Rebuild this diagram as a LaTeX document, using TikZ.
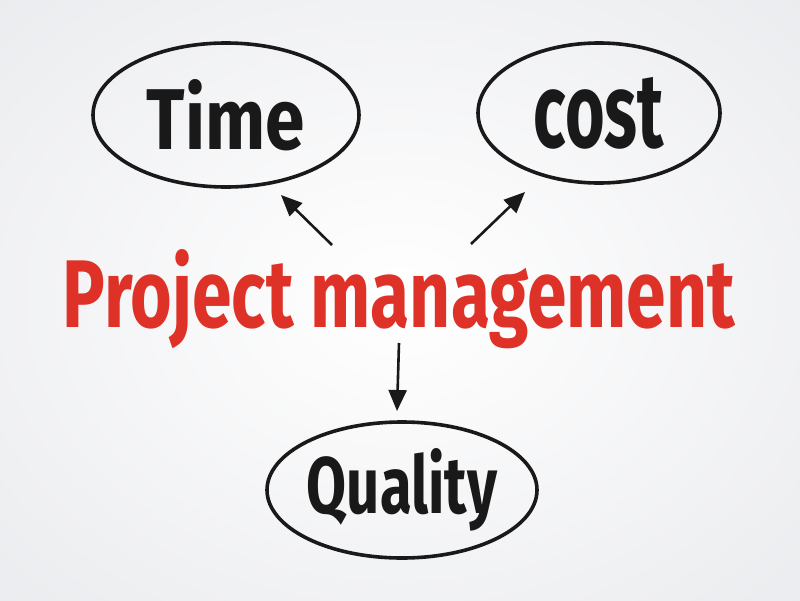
\documentclass[tikz,border=0pt]{standalone}
\usepackage{fontspec}
\setmainfont{Fira Sans}
\usepackage{graphicx}
\usetikzlibrary{shapes.geometric,arrows.meta}
\definecolor{pmred}{RGB}{222,50,40}
\definecolor{ink}{RGB}{25,25,25}
\definecolor{bgouter}{RGB}{234,235,238}
\begin{document}
\begin{tikzpicture}[x=1pt,y=-1pt,
  bubble/.style={ellipse,draw=ink,line width=3.6pt,inner sep=0pt,text=ink,font=\bfseries},
  arr/.style={draw=ink,line width=2.6pt,-{Triangle[length=21pt,width=18pt]}},
  title/.style={inner sep=0pt,text=pmred,font=\bfseries}]
\useasboundingbox (0,0) rectangle (800,600);
\shade[inner color=white,outer color=bgouter] (-200,-150) rectangle (1000,750);
\node[bubble,minimum width=266pt,minimum height=144pt] (time) at (226,115)
  {\resizebox{158pt}{70pt}{Time}};
\node[bubble,minimum width=242pt,minimum height=140pt] (cost) at (599,113)
  {\resizebox{130pt}{70pt}{cost}};
\node[bubble,minimum width=270pt,minimum height=136pt] (quality) at (402,490)
  {\resizebox{190pt}{65pt}{Quality}};
\node[title] (pm) at (399,299) {\resizebox{672pt}{78pt}{Project management}};
\coordinate (a1s) at (332,245); \coordinate (a1e) at (281,195);
\coordinate (a2s) at (471,244); \coordinate (a2e) at (525,192);
\coordinate (a3s) at (399,343); \coordinate (a3e) at (397,411);
\draw[arr] (a1s) -- (a1e);
\draw[arr] (a2s) -- (a2e);
\draw[arr] (a3s) -- (a3e);
\end{tikzpicture}
\end{document}
